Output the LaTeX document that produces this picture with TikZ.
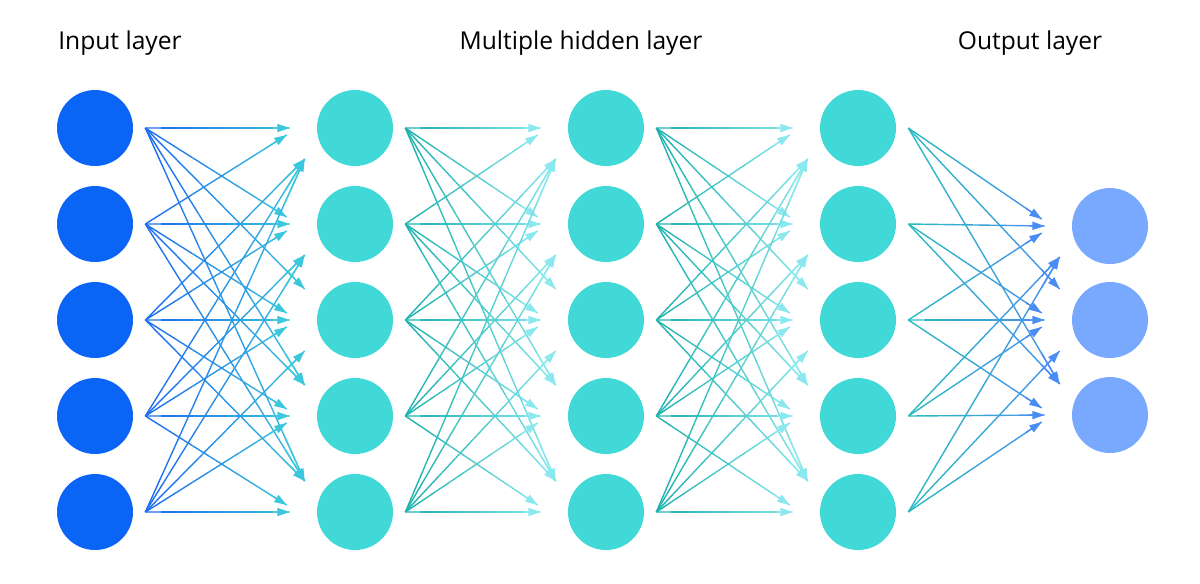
\documentclass[tikz,border=0pt]{standalone}
\usepackage{fontspec}
\setmainfont{Open Sans}
\usetikzlibrary{calc,arrows.meta}
\definecolor{inFill}{HTML}{0A64F5}
\definecolor{hidFill}{HTML}{40D9D8}
\definecolor{outFill}{HTML}{79A9FF}
\definecolor{eA}{HTML}{1E6EF0}
\definecolor{eB}{HTML}{3CC8DC}
\definecolor{eC}{HTML}{1FB3B0}
\definecolor{eD}{HTML}{8AE8EE}
\definecolor{eE}{HTML}{2ABBC0}
\definecolor{eF}{HTML}{4A8CF5}
\newcommand\myconn[6]{%
 \pgfmathtruncatemacro\mydd{#4-#3}%
 \ifnum\mydd=0 \def\myex{-27}\def\myey{0}\else
 \ifnum\mydd=1 \def\myex{-30}\def\myey{-7}\else
 \ifnum\mydd=-1 \def\myex{-30}\def\myey{7}\else
 \ifnum\mydd>1 \def\myex{-12}\def\myey{-31}\else \def\myex{-12}\def\myey{31}\fi\fi\fi\fi
 \coordinate (S) at ($(#1.east)+(12,0)$);
 \coordinate (E) at ($(#2.west)+(\myex,\myey)$);
 \foreach \k in {0,...,8}{%
   \pgfmathtruncatemacro\p{100-11*\k}%
   \pgfmathsetmacro\ka{\k/9}\pgfmathsetmacro\kb{(\k+1)/9}%
   \draw[edge,color=#5!\p!#6] ($(S)!\ka!(E)$) -- ($(S)!\kb!(E)$);}
 \draw[edge,color=#6,-{Triangle[length=7pt,width=4.6pt]}] ($(S)!0.88!(E)$) -- (E);
}
\begin{document}
\begin{tikzpicture}[x=0.02cm,y=-0.02cm,
  neuron/.style={circle,minimum size=1.52cm,inner sep=0pt,draw=none},
  edge/.style={line width=0.8pt},
  lbl/.style={font=\fontsize{14}{16}\selectfont,text=black}]
\useasboundingbox (0,0) rectangle (1200,583);
\node[lbl] (t1) at (120,43) {Input layer};
\node[lbl] (t2) at (581,43) {Multiple hidden layer};
\node[lbl] (t3) at (1030,43) {Output layer};
\foreach \r/\y in {1/128,2/224,3/320,4/416,5/512}{
  \node[neuron,fill=inFill] (a\r) at (95,\y) {};
  \node[neuron,fill=hidFill] (b\r) at (355,\y) {};
  \node[neuron,fill=hidFill] (c\r) at (606,\y) {};
  \node[neuron,fill=hidFill] (d\r) at (858,\y) {};
}
\foreach \r/\y in {2/226,3/320,4/415}{
  \node[neuron,fill=outFill] (o\r) at (1110,\y) {};
}
\foreach \i in {1,...,5}{
  \foreach \j in {1,...,5}{
    \myconn{a\i}{b\j}{\i}{\j}{eA}{eB}
    \myconn{b\i}{c\j}{\i}{\j}{eC}{eD}
    \myconn{c\i}{d\j}{\i}{\j}{eC}{eD}
  }
  \foreach \j in {2,3,4}{
    \myconn{d\i}{o\j}{\i}{\j}{eE}{eF}
  }
}
\end{tikzpicture}
\end{document}
